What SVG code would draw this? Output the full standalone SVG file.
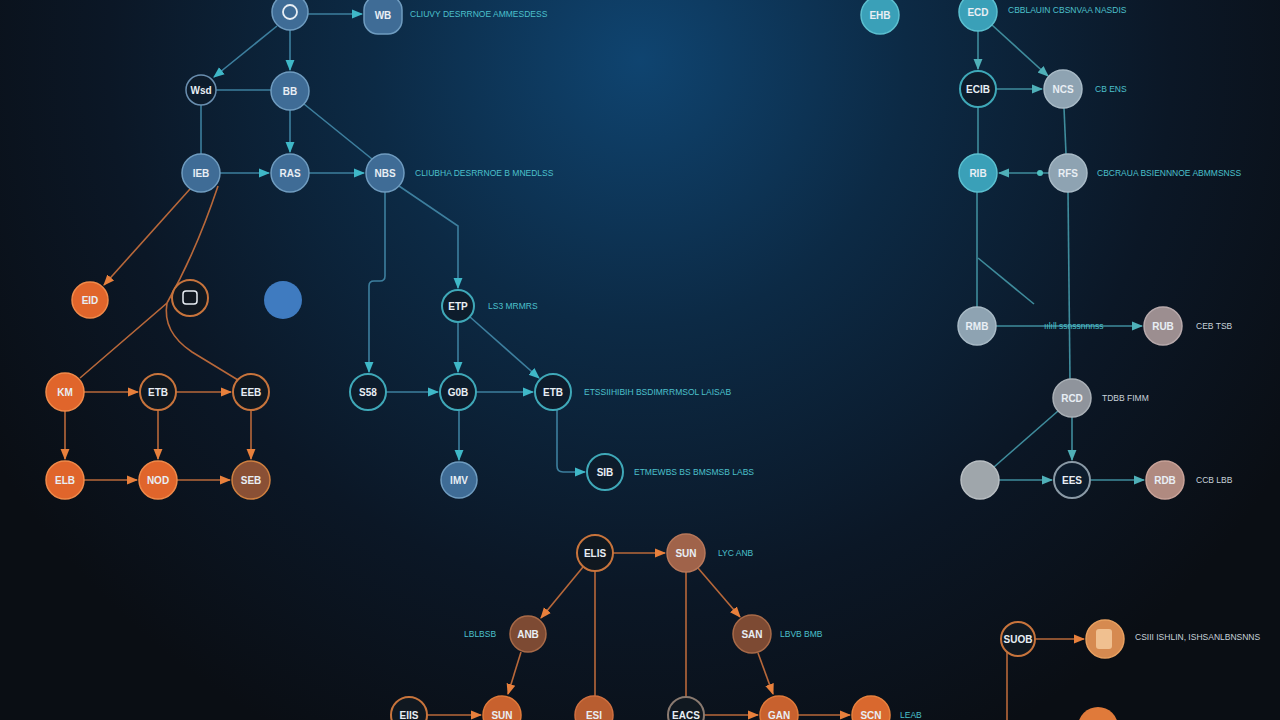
<svg xmlns="http://www.w3.org/2000/svg" width="1280" height="720" viewBox="0 0 1280 720">
<defs>
<radialGradient id="bg" cx="640" cy="60" r="760" gradientUnits="userSpaceOnUse">
<stop offset="0" stop-color="#0f4470"/>
<stop offset="0.35" stop-color="#0c2a45"/>
<stop offset="0.7" stop-color="#0b1726"/>
<stop offset="1" stop-color="#0a0e14"/>
</radialGradient>
<marker id="at" viewBox="0 0 10 10" refX="9" refY="5" markerWidth="7" markerHeight="7" orient="auto"><path d="M0,1 L10,5 L0,9 Z" fill="#3fb8c8"/></marker>
<marker id="ao" viewBox="0 0 10 10" refX="9" refY="5" markerWidth="7" markerHeight="7" orient="auto"><path d="M0,1 L10,5 L0,9 Z" fill="#e8803c"/></marker>
<marker id="ag" viewBox="0 0 10 10" refX="9" refY="5" markerWidth="7" markerHeight="7" orient="auto"><path d="M0,1 L10,5 L0,9 Z" fill="#4fb0b8"/></marker>
</defs>
<style>
.lb{stroke:#3d7f9e;stroke-width:1.6;fill:none}
.lo{stroke:#b8683a;stroke-width:1.6;fill:none}
.lr{stroke:#3f8c9c;stroke-width:1.6;fill:none}
.t{font-family:"Liberation Sans",Arial,sans-serif;font-size:10px;font-weight:bold;fill:#e8eef4;text-anchor:middle;dominant-baseline:central}
.s{font-family:"Liberation Sans",Arial,sans-serif;font-size:8.5px;fill:#4cc0cc;dominant-baseline:central}
.sg{font-family:"Liberation Sans",Arial,sans-serif;font-size:8.5px;fill:#c8d2da;dominant-baseline:central}
.nb{fill:#3f6c96;stroke:#6f9cc0;stroke-width:1.5}
.nd{fill:#0d1c2c;stroke:#3fa8b8;stroke-width:2}
.no{fill:#e0652b;stroke:#f08a4a;stroke-width:1.5}
.ndo{fill:#101820;stroke:#c8743c;stroke-width:2}
.nt{fill:#3aa0b8;stroke:#5cc0d0;stroke-width:1.5}
.ng{fill:#8ea3b2;stroke:#a8bac6;stroke-width:1.5}
.nbr{fill:#7d4a33;stroke:#a86a48;stroke-width:1.5}
</style>
<rect width="1280" height="720" fill="url(#bg)"/>

<g id="connectors">
<path class="lb" d="M308 14 L362 14" marker-end="url(#at)"/>
<path class="lb" d="M277 26 L214 77" marker-end="url(#at)"/>
<path class="lb" d="M290 30 L290 70" marker-end="url(#at)"/>
<path class="lb" d="M216 90 L271 90"/>
<path class="lb" d="M201 105 L201 154"/>
<path class="lb" d="M290 110 L290 152" marker-end="url(#at)"/>
<path class="lb" d="M220 173 L269 173" marker-end="url(#at)"/>
<path class="lb" d="M309 173 L364 173" marker-end="url(#at)"/>
<path class="lb" d="M304 104 L372 159"/>
<path class="lb" d="M385 192 V276 Q385 281 380 281 H374 Q369 281 369 286 V372" marker-end="url(#at)"/>
<path class="lb" d="M399 186 L458 226 V288" marker-end="url(#at)"/>
<path class="lb" d="M386 392 L438 392" marker-end="url(#at)"/>
<path class="lb" d="M458 322 L458 372" marker-end="url(#at)"/>
<path class="lb" d="M470 317 L539 378" marker-end="url(#at)"/>
<path class="lb" d="M476 392 L533 392" marker-end="url(#at)"/>
<path class="lb" d="M459 410 L459 460" marker-end="url(#at)"/>
<path class="lb" d="M557 410 V466 Q557 472 563 472 H585" marker-end="url(#at)"/>

<path class="lo" d="M190 189 L104 285" marker-end="url(#ao)"/>
<path class="lo" d="M218 186 Q196 252 167 303 L80 378"/>
<path class="lo" d="M167 303 Q162 332 192 352 L238 380"/>
<path class="lo" d="M84 392 L138 392" marker-end="url(#ao)"/>
<path class="lo" d="M176 392 L231 392" marker-end="url(#ao)"/>
<path class="lo" d="M65 411 L65 459" marker-end="url(#ao)"/>
<path class="lo" d="M158 410 L158 459" marker-end="url(#ao)"/>
<path class="lo" d="M251 410 L251 459" marker-end="url(#ao)"/>
<path class="lo" d="M84 480 L137 480" marker-end="url(#ao)"/>
<path class="lo" d="M177 480 L230 480" marker-end="url(#ao)"/>

<path class="lr" d="M978 31 L978 69" marker-end="url(#ag)"/>
<path class="lr" d="M992 25 L1048 76" marker-end="url(#ag)"/>
<path class="lr" d="M996 89 L1042 89" marker-end="url(#ag)"/>
<path class="lr" d="M978 107 L978 154"/>
<path class="lr" d="M1064 108 L1066 154"/>
<path class="lr" d="M1049 173 L999 173" marker-end="url(#ag)"/>
<circle cx="1040" cy="173" r="3" fill="#4fc0c0"/>
<path class="lr" d="M977 192 L977 307"/>
<path class="lr" d="M978 258 L1034 304"/>
<path class="lr" d="M1068 192 L1070 379"/>
<path class="lr" d="M996 326 L1142 326" marker-end="url(#ag)"/>
<path class="lr" d="M1072 417 L1072 460" marker-end="url(#ag)"/>
<path class="lr" d="M994 467 L1058 411"/>
<path class="lr" d="M999 480 L1052 480" marker-end="url(#ag)"/>
<path class="lr" d="M1090 480 L1144 480" marker-end="url(#ag)"/>

<path class="lo" d="M613 553 L665 553" marker-end="url(#ao)"/>
<path class="lo" d="M583 567 L541 618" marker-end="url(#ao)"/>
<path class="lo" d="M698 568 L740 617" marker-end="url(#ao)"/>
<path class="lo" d="M595 571 V696"/>
<path class="lo" d="M686 572 V697"/>
<path class="lo" d="M521 652 L508 694" marker-end="url(#ao)"/>
<path class="lo" d="M758 653 L773 694" marker-end="url(#ao)"/>
<path class="lo" d="M427 715 L481 715" marker-end="url(#ao)"/>
<path class="lo" d="M704 715 L758 715" marker-end="url(#ao)"/>
<path class="lo" d="M798 715 L850 715" marker-end="url(#ao)"/>
<path class="lo" d="M1035 639 L1084 639" marker-end="url(#ao)"/>
<path class="lo" d="M1007 652 V720"/>
</g>

<g id="n1"><circle class="nb" cx="290" cy="12" r="18"/><circle cx="290" cy="12" r="7" fill="none" stroke="#e8eef4" stroke-width="1.8"/></g>
<g id="n2"><rect class="nb" x="364" y="-4" width="38" height="38" rx="14"/><text class="t" x="383" y="15">WB</text><text class="s" x="410" y="14">CLIUVY DESRRNOE AMMESDESS</text></g>
<g id="n3"><circle cx="201" cy="90" r="15" fill="#0d1c2c" stroke="#6a8fb0" stroke-width="1.5"/><text class="t" x="201" y="90" font-size="9">Wsd</text></g>
<g id="n4"><circle class="nb" cx="290" cy="91" r="19"/><text class="t" x="290" y="91">BB</text></g>
<g id="n5"><circle class="nb" cx="201" cy="173" r="19" fill="#4a76a0"/><text class="t" x="201" y="173">IEB</text></g>
<g id="n6"><circle class="nb" cx="290" cy="173" r="19"/><text class="t" x="290" y="173">RAS</text></g>
<g id="n7"><circle class="nb" cx="385" cy="173" r="19"/><text class="t" x="385" y="173">NBS</text><text class="s" x="415" y="173">CLIUBHA DESRRNOE B MNEDLSS</text></g>
<g id="n8"><circle class="nd" cx="458" cy="306" r="16"/><text class="t" x="458" y="306">ETP</text><text class="s" x="488" y="306">LS3 MRMRS</text></g>
<g id="n9"><circle class="nd" cx="368" cy="392" r="18"/><text class="t" x="368" y="392">S58</text></g>
<g id="n10"><circle class="nd" cx="458" cy="392" r="18"/><text class="t" x="458" y="392">G0B</text></g>
<g id="n11"><circle class="nd" cx="553" cy="392" r="18"/><text class="t" x="553" y="392">ETB</text><text class="s" x="584" y="392">ETSSIIHIBIH BSDIMRRMSOL LAISAB</text></g>
<g id="n12"><circle class="nb" cx="459" cy="480" r="18"/><text class="t" x="459" y="480">IMV</text></g>
<g id="n13"><circle class="nd" cx="605" cy="472" r="18"/><text class="t" x="605" y="472">SIB</text><text class="s" x="634" y="472">ETMEWBS BS BMSMSB LABS</text></g>

<g id="o1"><circle class="no" cx="90" cy="300" r="18"/><text class="t" x="90" y="300">EID</text></g>
<g id="o2"><circle class="ndo" cx="190" cy="298" r="18"/><rect x="183" y="291" width="14" height="13" rx="3" fill="none" stroke="#e8eef4" stroke-width="1.5"/></g>
<g id="o2b"><circle cx="283" cy="300" r="19" fill="#3f7bc0"/></g>
<g id="o3"><circle class="no" cx="65" cy="392" r="19"/><text class="t" x="65" y="392">KM</text></g>
<g id="o4"><circle class="ndo" cx="158" cy="392" r="18"/><text class="t" x="158" y="392">ETB</text></g>
<g id="o5"><circle class="ndo" cx="251" cy="392" r="18"/><text class="t" x="251" y="392">EEB</text></g>
<g id="o6"><circle class="no" cx="65" cy="480" r="19"/><text class="t" x="65" y="480">ELB</text></g>
<g id="o7"><circle class="no" cx="158" cy="480" r="19"/><text class="t" x="158" y="480">NOD</text></g>
<g id="o8"><circle cx="251" cy="480" r="19" fill="#8a5035" stroke="#d08040" stroke-width="1.5"/><text class="t" x="251" y="480">SEB</text></g>

<g id="r1"><circle class="nt" cx="880" cy="15" r="19"/><text class="t" x="880" y="15">EHB</text></g>
<g id="r2"><circle class="nt" cx="978" cy="12" r="19"/><text class="t" x="978" y="12">ECD</text><text class="s" x="1008" y="10">CBBLAUIN CBSNVAA NASDIS</text></g>
<g id="r3"><circle class="nd" cx="978" cy="89" r="18"/><text class="t" x="978" y="89">ECIB</text></g>
<g id="r4"><circle class="ng" cx="1063" cy="89" r="19"/><text class="t" x="1063" y="89">NCS</text><text class="s" x="1095" y="89">CB ENS</text></g>
<g id="r5"><circle class="nt" cx="978" cy="173" r="19" fill="#3a9fb5"/><text class="t" x="978" y="173">RIB</text></g>
<g id="r6"><circle class="ng" cx="1068" cy="173" r="19"/><text class="t" x="1068" y="173">RFS</text><text class="s" x="1097" y="173">CBCRAUA BSIENNNOE ABMMSNSS</text></g>
<g id="r7"><circle class="ng" cx="977" cy="326" r="19" fill="#8a9fb0"/><text class="t" x="977" y="326">RMB</text><text class="s" x="1044" y="326">ıılıll ssnssnnnss</text></g>
<g id="r8"><circle cx="1163" cy="326" r="19" fill="#9c8e90" stroke="#b8aaac" stroke-width="1.5"/><text class="t" x="1163" y="326">RUB</text><text class="sg" x="1196" y="326">CEB TSB</text></g>
<g id="r9"><circle cx="1072" cy="398" r="19" fill="#8f949c" stroke="#aab0b6" stroke-width="1.5"/><text class="t" x="1072" y="398">RCD</text><text class="sg" x="1102" y="398">TDBB FIMM</text></g>
<g id="r10"><circle cx="980" cy="480" r="19" fill="#9fa6ab" stroke="#b8bec2" stroke-width="1.5"/></g>
<g id="r11"><circle cx="1072" cy="480" r="18" fill="#0d1c2c" stroke="#8a9aa6" stroke-width="2"/><text class="t" x="1072" y="480">EES</text></g>
<g id="r12"><circle cx="1165" cy="480" r="19" fill="#b08a80" stroke="#c8a298" stroke-width="1.5"/><text class="t" x="1165" y="480">RDB</text><text class="sg" x="1196" y="480">CCB LBB</text></g>

<g id="b1"><circle class="ndo" cx="595" cy="553" r="18" stroke="#a87050"/><text class="t" x="595" y="553">ELIS</text></g>
<g id="b2"><circle cx="686" cy="553" r="19" fill="#a0634a" stroke="#b8785a" stroke-width="1.5"/><text class="t" x="686" y="553">SUN</text><text class="s" x="718" y="553">LYC ANB</text></g>
<g id="b3"><circle class="nbr" cx="528" cy="634" r="18"/><text class="t" x="528" y="634">ANB</text><text class="s" x="464" y="634">LBLBSB</text></g>
<g id="b4"><circle class="nbr" cx="752" cy="634" r="19"/><text class="t" x="752" y="634">SAN</text><text class="s" x="780" y="634">LBVB BMB</text></g>
<g id="b5"><circle class="ndo" cx="409" cy="715" r="18"/><text class="t" x="409" y="715">EIIS</text></g>
<g id="b6"><circle cx="502" cy="715" r="19" fill="#c8612e" stroke="#e07a3a" stroke-width="1.5"/><text class="t" x="502" y="715">SUN</text></g>
<g id="b7"><circle cx="594" cy="715" r="19" fill="#b85d30" stroke="#d07040" stroke-width="1.5"/><text class="t" x="594" y="715">ESI</text></g>
<g id="b8"><circle cx="686" cy="715" r="18" fill="#101820" stroke="#8a7a70" stroke-width="2"/><text class="t" x="686" y="715">EACS</text></g>
<g id="b9"><circle cx="779" cy="715" r="19" fill="#c8612e" stroke="#e07a3a" stroke-width="1.5"/><text class="t" x="779" y="715">GAN</text></g>
<g id="b10"><circle cx="871" cy="715" r="19" fill="#d9682e" stroke="#e8823e" stroke-width="1.5"/><text class="t" x="871" y="715">SCN</text><text class="s" x="900" y="715">LEAB</text></g>

<g id="c1"><circle class="ndo" cx="1018" cy="639" r="17"/><text class="t" x="1018" y="639" font-size="9">SUOB</text></g>
<g id="c2"><circle cx="1105" cy="639" r="19" fill="#d68a50" stroke="#e8a060" stroke-width="1.5"/><rect x="1096" y="629" width="16" height="20" rx="3" fill="#f0c090"/><text class="sg" x="1135" y="637">CSIII ISHLIN, ISHSANLBNSNNS</text></g>
<g id="c3"><circle cx="1098" cy="727" r="20" fill="#e07a3a"/></g>
</svg>
